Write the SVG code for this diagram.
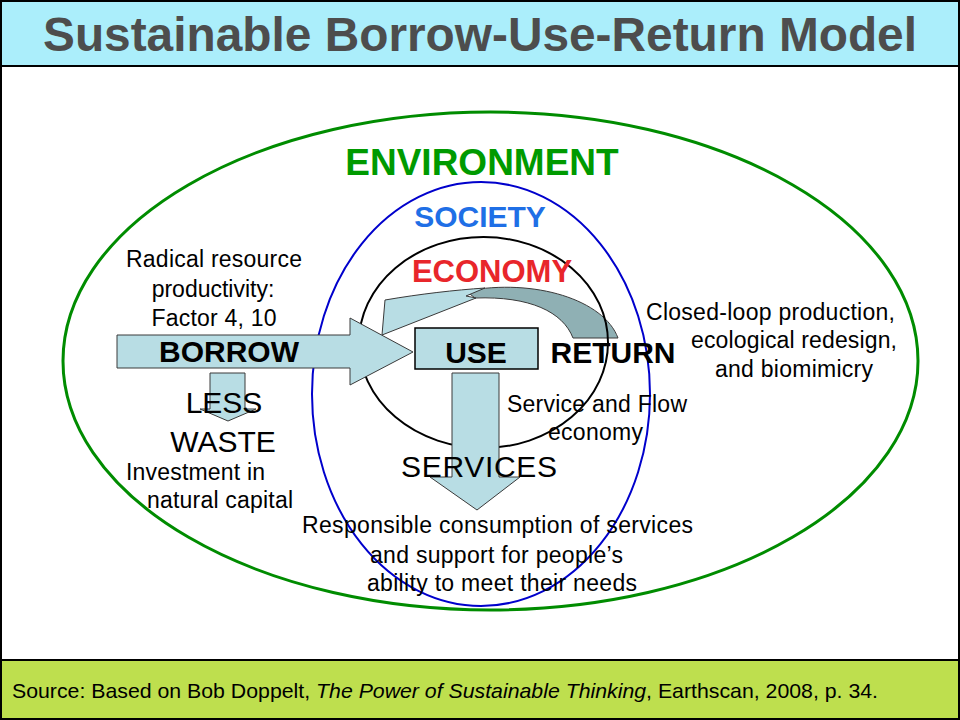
<svg xmlns="http://www.w3.org/2000/svg" width="960" height="720" viewBox="0 0 960 720">
<style>
.lbl{font-family:"Liberation Sans",Arial,sans-serif;font-size:23px;fill:#000}
.big{font-family:"Liberation Sans",Arial,sans-serif;font-size:30px;fill:#000}
.bold{font-weight:bold}
.arrow{fill:#b8dde4;stroke:#3a3a3a;stroke-width:1}
.mid{text-anchor:middle}
</style>
<rect x="0" y="0" width="960" height="720" fill="#ffffff"/>
<g id="title">
<rect x="1" y="1" width="958" height="65" fill="#abeefb" stroke="#000" stroke-width="2"/>
<text x="43" y="51" font-family="'Liberation Sans Narrow','Liberation Sans',Arial,sans-serif" font-size="48" font-weight="bold" fill="#4d4d4d" textLength="874" lengthAdjust="spacingAndGlyphs">Sustainable Borrow-Use-Return Model</text>
</g>
<g id="footer">
<rect x="1" y="660" width="958" height="59" fill="#bedf4e" stroke="#000" stroke-width="2"/>
<text x="12" y="698" font-family="'Liberation Sans Narrow','Liberation Sans',Arial,sans-serif" font-size="21" fill="#000" textLength="866" lengthAdjust="spacingAndGlyphs">Source: Based on Bob Doppelt, <tspan font-style="italic">The Power of Sustainable Thinking</tspan>, Earthscan, 2008, p. 34.</text>
</g>
<rect x="1" y="66" width="958" height="594" fill="none" stroke="#000" stroke-width="2"/>
<g id="environment">
<ellipse cx="490.5" cy="361" rx="427.5" ry="249" fill="none" stroke="#008c00" stroke-width="3"/>
<text x="482" y="175" font-family="'Liberation Sans',Arial,sans-serif" font-size="37" font-weight="bold" fill="#009a00" text-anchor="middle">ENVIRONMENT</text>
</g>
<g id="society">
<ellipse cx="481" cy="394" rx="169" ry="212" fill="none" stroke="#0000cc" stroke-width="2"/>
<text x="480" y="227" font-family="'Liberation Sans',Arial,sans-serif" font-size="30" font-weight="bold" fill="#1f6fe6" text-anchor="middle">SOCIETY</text>
</g>
<g id="connectors">
<path id="return-arrow-band" d="M466,291 C535,278 604,300 618,338 L573,338 C563,312 530,296 475,298 Z" fill="#8fb0b4" stroke="#3a3a3a" stroke-width="1"/>
<path id="return-arrow-head" class="arrow" d="M385,300 C420,294 455,290 485,288 L466,296 L476,298 L382,335 Z"/>
</g>
<g id="economy">
<ellipse cx="483.5" cy="342.5" rx="124.5" ry="105.5" fill="none" stroke="#000" stroke-width="2"/>
<text x="492" y="282" font-family="'Liberation Sans',Arial,sans-serif" font-size="31" font-weight="bold" fill="#e8262b" text-anchor="middle">ECONOMY</text>
</g>
<g id="borrow">
<path class="arrow" d="M117,335 L350,335 L350,318 L413,352 L350,385 L350,368 L117,368 Z"/>
<text class="big bold mid" x="229" y="362">BORROW</text>
</g>
<g id="less-waste">
<path class="arrow" d="M210,373 L245,373 L245,409 L256,409 L228,421 L200,409 L210,409 Z"/>
<text class="big mid" x="224" y="413" font-size="31">LESS</text>
<text class="big mid" x="223" y="452" font-size="32">WASTE</text>
</g>
<g id="use">
<rect x="415" y="328" width="123" height="41" fill="#b8dde4" stroke="#000" stroke-width="1.5"/>
<text class="big bold mid" x="476" y="363">USE</text>
</g>
<g id="return">
<text class="big bold mid" x="613" y="363">RETURN</text>
</g>
<g id="services">
<path class="arrow" d="M452,373 L499,373 L499,477 L520,477 L477,510 L430,477 L452,477 Z"/>
<text class="big mid" x="479" y="477" textLength="156">SERVICES</text>
</g>
<g id="label-radical">
<text class="lbl mid" x="214" y="267" textLength="176">Radical resource</text>
<text class="lbl mid" x="213" y="297">productivity:</text>
<text class="lbl mid" x="214" y="326" textLength="125">Factor 4, 10</text>
</g>
<g id="label-investment">
<text class="lbl" x="126" y="480" textLength="139">Investment in</text>
<text class="lbl" x="147" y="508" textLength="146">natural capital</text>
</g>
<g id="label-closed-loop">
<text class="lbl" x="646" y="320" textLength="249">Closed-loop production,</text>
<text class="lbl" x="691" y="348" textLength="206">ecological redesign,</text>
<text class="lbl" x="715" y="377" textLength="158">and biomimicry</text>
</g>
<g id="label-service-flow">
<text class="lbl" x="507" y="412" textLength="180">Service and Flow</text>
<text class="lbl" x="548" y="440" textLength="95">economy</text>
</g>
<g id="label-responsible">
<text class="lbl" x="302" y="533" textLength="391">Responsible consumption of services</text>
<text class="lbl" x="370" y="563" textLength="253">and support for people’s</text>
<text class="lbl" x="367" y="591" textLength="270">ability to meet their needs</text>
</g>
</svg>
